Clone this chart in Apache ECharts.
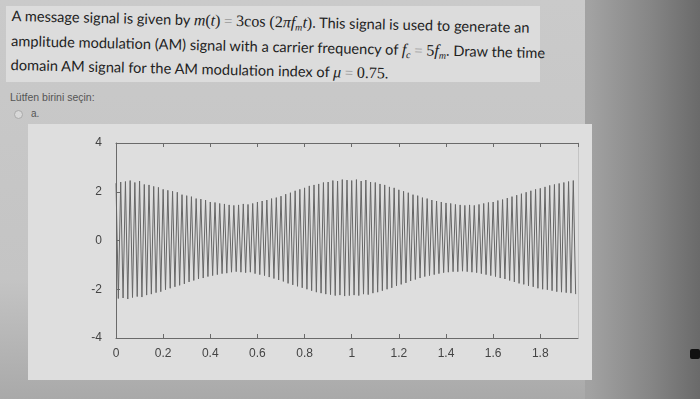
<!DOCTYPE html>
<html lang="tr">
<head>
<meta charset="UTF-8">
<title>AM signal</title>
<style>
html, body { margin: 0; padding: 0; }
body {
    width: 700px; height: 399px; overflow: hidden; position: relative;
    background: linear-gradient(90deg, #b4b4b4 0px, #a2a2a2 590px, #868686 650px, #6a6a6a 700px);
}
#panel { position: absolute; left: 0; top: 0; width: 585px; height: 399px;
    background: linear-gradient(180deg, #cacaca 0%, #c4c4c4 70%, #a9a9a9 100%); }
#qbox { position: absolute; left: 6px; top: 6px; width: 534px; height: 76px; background: #dcdcdc; }
#question { position: absolute; left: 12px; top: 4px; width: 560px;
    font-family: Lato, "Open Sans", sans-serif; font-size: 14.6px; line-height: 23.5px; color: #222;
    transform: rotate(1.3deg); transform-origin: 0 0; white-space: nowrap; }
.m { font-family: "Liberation Serif", serif; font-size: 16px; }
.mi { font-family: "Liberation Serif", serif; font-style: italic; font-size: 16px; }
.s { font-family: "Liberation Serif", serif; font-style: italic; font-size: 10px; position: relative; top: 3px; line-height: 0; }
.eq { color: #9a9a9a; font-family: "Liberation Serif", serif; }
#hint { position: absolute; left: 10px; top: 91px; font-family: "Liberation Sans", sans-serif; font-size: 10.5px; color: #555; }
#radio { position: absolute; left: 14px; top: 110px; width: 7px; height: 7px; border-radius: 50%; border: 1px solid #aaa; background: #d8d8d8; }
#opt { position: absolute; left: 31px; top: 108px; font-family: "Liberation Sans", sans-serif; font-size: 10px; color: #555; }
#plotbg { position: absolute; left: 28px; top: 124px; width: 564px; height: 256px; background: #dedede; }
#mark { position: absolute; left: 690px; top: 349px; width: 10px; height: 10px; background: #111; border-radius: 2px; }
#chart { position: absolute; left: 0; top: 0; width: 700px; height: 399px; }
</style>
</head>
<body>
<div id="panel"></div>
<div id="qbox"></div>
<div id="question">
A message signal is given by <span class="mi">m</span><span class="m">(</span><span class="mi">t</span><span class="m">)</span> <span class="eq">=</span> <span class="m">3cos (2</span><span class="mi">πf</span><span class="s">m</span><span class="mi">t</span><span class="m">)</span>. This signal is used to generate an<br>
amplitude modulation (AM) signal with a carrier frequency of <span class="mi">f</span><span class="s">c</span> <span class="eq">=</span> <span class="m">5</span><span class="mi">f</span><span class="s">m</span>. Draw the time<br>
domain AM signal for the AM modulation index of <span class="mi">μ</span> <span class="eq">=</span> <span class="m">0.75</span>.
</div>
<div id="hint">Lütfen birini seçin:</div>
<div id="radio"></div>
<div id="opt">a.</div>
<div id="plotbg"></div>
<div id="mark"></div>
<div id="chart"></div>
<script src="https://cdn.jsdelivr.net/npm/echarts@6/dist/echarts.min.js"></script>
<script>
// one carrier cycle every 0.02 s: a crest then a trough
var period = 0.02;
var crests = [
    2.35, 2.40, 2.42, 2.46, 2.38, 2.44, 2.30, 2.28, 2.22, 2.18,
    2.10, 2.06, 2.02, 1.98, 1.88, 1.84, 1.80, 1.72, 1.70, 1.66,
    1.58, 1.56, 1.52, 1.50, 1.46, 1.44, 1.46, 1.50, 1.48, 1.52,
    1.58, 1.62, 1.66, 1.72, 1.76, 1.82, 1.90, 1.96, 2.04, 2.10,
    2.16, 2.24, 2.28, 2.32, 2.38, 2.40, 2.46, 2.44, 2.50, 2.48,
    2.46, 2.50, 2.44, 2.48, 2.40, 2.38, 2.32, 2.28, 2.20, 2.16,
    2.08, 2.02, 1.96, 1.88, 1.84, 1.76, 1.72, 1.66, 1.62, 1.58,
    1.54, 1.52, 1.48, 1.46, 1.44, 1.46, 1.44, 1.48, 1.52, 1.56,
    1.58, 1.64, 1.68, 1.74, 1.80, 1.86, 1.92, 1.98, 2.04, 2.10,
    2.14, 2.20, 2.26, 2.30, 2.34, 2.38, 2.42, 2.46
];
var troughs = [
    -2.38, -2.36, -2.40, -2.34, -2.30, -2.32, -2.24, -2.20, -2.14, -2.10,
    -2.02, -1.96, -1.90, -1.84, -1.78, -1.70, -1.64, -1.58, -1.54, -1.48,
    -1.44, -1.40, -1.36, -1.34, -1.30, -1.28, -1.30, -1.32, -1.30, -1.36,
    -1.40, -1.44, -1.50, -1.56, -1.62, -1.68, -1.76, -1.82, -1.88, -1.94,
    -2.00, -2.06, -2.12, -2.16, -2.20, -2.22, -2.26, -2.24, -2.28, -2.26,
    -2.24, -2.26, -2.20, -2.22, -2.16, -2.12, -2.06, -2.00, -1.94, -1.86,
    -1.80, -1.74, -1.66, -1.60, -1.54, -1.48, -1.44, -1.40, -1.36, -1.32,
    -1.30, -1.28, -1.28, -1.26, -1.28, -1.30, -1.32, -1.36, -1.40, -1.44,
    -1.48, -1.54, -1.58, -1.64, -1.70, -1.76, -1.80, -1.86, -1.90, -1.96,
    -2.00, -2.02, -2.06, -2.10, -2.12, -2.14, -2.16, -2.20
];
var xTicks = [0, 0.2, 0.4, 0.6, 0.8, 1, 1.2, 1.4, 1.6, 1.8];
var yTicks = [-4, -2, 0, 2, 4];

var points = [];
for (var i = 0; i < crests.length; i++) {
    points.push([i * period, crests[i]]);
    points.push([i * period + period / 2, troughs[i]]);
}

var chart = echarts.init(document.getElementById('chart'));
var axisCol = '#6a6a6a';
var labelStyle = { color: '#444', fontFamily: 'Liberation Sans', fontSize: 12 };
chart.setOption({
    animation: false,
    grid: { left: 116, top: 143, width: 462, height: 195 },
    xAxis: [{
        type: 'value', min: 0, max: 1.96, interval: 0.2,
        axisLine: { show: true, onZero: false, lineStyle: { color: axisCol } },
        axisTick: { inside: true, length: 4, lineStyle: { color: axisCol } },
        axisLabel: Object.assign({ margin: 10, showMaxLabel: false,
            formatter: function (v) { var r = Math.round(v * 10) / 10; return xTicks.indexOf(r) >= 0 ? String(r) : ''; } }, labelStyle),
        splitLine: { show: false }
    }, {
        type: 'value', position: 'top', min: 0, max: 1.96, interval: 0.2,
        axisLine: { show: true, onZero: false, lineStyle: { color: axisCol } },
        axisTick: { show: true, inside: true, length: 4, lineStyle: { color: axisCol } },
        axisLabel: { show: false }, splitLine: { show: false }
    }],
    yAxis: [{
        type: 'value', min: yTicks[0], max: yTicks[yTicks.length - 1], interval: 2,
        axisLine: { show: true, onZero: false, lineStyle: { color: axisCol } },
        axisTick: { show: true, inside: true, length: 4, lineStyle: { color: axisCol } },
        axisLabel: Object.assign({ margin: 14 }, labelStyle),
        splitLine: { show: false }
    }, {
        type: 'value', position: 'right', min: -4, max: 4, interval: 2,
        axisLine: { show: true, onZero: false, lineStyle: { color: '#c4c4c4' } },
        axisTick: { show: false }, axisLabel: { show: false }, splitLine: { show: false }
    }],
    series: [{
        type: 'line', data: points, showSymbol: false,
        lineStyle: { color: '#666', width: 1 }
    }]
});
</script>
</body>
</html>
